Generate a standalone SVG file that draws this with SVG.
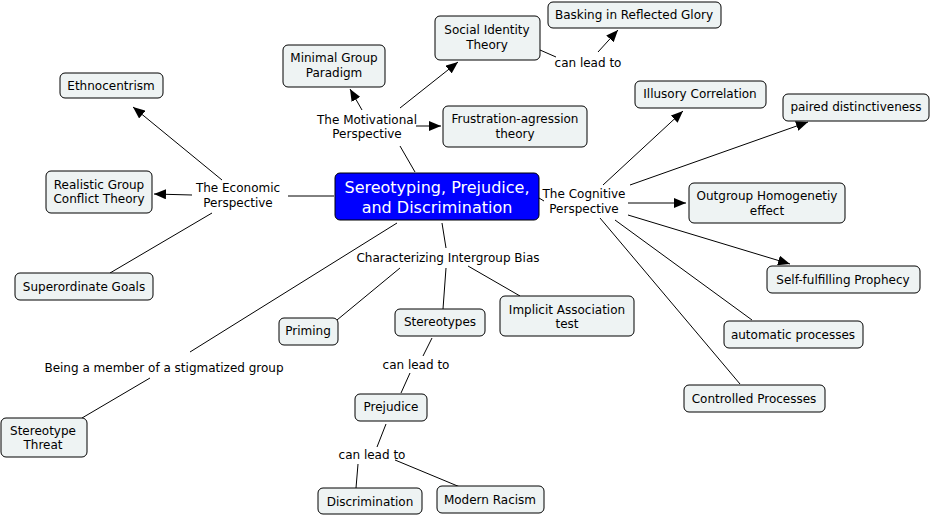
<svg xmlns="http://www.w3.org/2000/svg" width="931" height="516" viewBox="0 0 931 516">
<defs>
<marker id="ah" viewBox="0 0 12 10" refX="12" refY="5" markerWidth="12" markerHeight="10" markerUnits="userSpaceOnUse" orient="auto"><path d="M0,0 L12,5 L0,10 Z" fill="#000"/></marker>
<style>
text{font-family:"DejaVu Sans",Verdana,sans-serif;font-size:12px;fill:#000;text-anchor:middle}
.n rect{fill:#eef3f3;stroke:#000;stroke-width:1}
.c line{stroke:#000;stroke-width:1}
.a{marker-end:url(#ah)}
</style>
</defs>
<rect width="931" height="516" fill="#fff"/>
<g class="c">
<line x1="415" y1="172" x2="400" y2="146"/>
<line class="a" x1="362" y1="110" x2="350" y2="89"/>
<line class="a" x1="400" y1="108" x2="458" y2="62"/>
<line class="a" x1="416" y1="126" x2="441" y2="126"/>
<line x1="540" y1="50" x2="556" y2="57"/>
<line class="a" x1="598" y1="52" x2="618" y2="30"/>
<line x1="334" y1="196" x2="288" y2="196"/>
<line class="a" x1="222" y1="180" x2="133" y2="107"/>
<line class="a" x1="192" y1="195" x2="154" y2="194"/>
<line x1="212" y1="213" x2="110" y2="273"/>
<line x1="539" y1="198" x2="544" y2="201"/>
<line class="a" x1="603" y1="185" x2="683" y2="111"/>
<line class="a" x1="630" y1="185" x2="808" y2="122"/>
<line class="a" x1="628" y1="203" x2="686" y2="203"/>
<line class="a" x1="628" y1="215" x2="790" y2="264"/>
<line x1="615" y1="220" x2="752" y2="320"/>
<line x1="600" y1="218" x2="740" y2="384"/>
<line x1="442" y1="223" x2="446" y2="248"/>
<line x1="400" y1="268" x2="337" y2="320"/>
<line x1="446" y1="268" x2="443" y2="309"/>
<line x1="468" y1="266" x2="520" y2="296"/>
<line x1="397" y1="223" x2="190" y2="352"/>
<line x1="150" y1="378" x2="82" y2="418"/>
<line x1="432" y1="338" x2="423" y2="356"/>
<line x1="410" y1="373" x2="401" y2="393"/>
<line x1="386" y1="424" x2="377" y2="447"/>
<line x1="358" y1="464" x2="356" y2="488"/>
<line x1="395" y1="460" x2="460" y2="487"/>
</g>
<g id="labels">
<text x="367" y="124">The Motivational</text><text x="367" y="138">Perspective</text>
<text x="238" y="192">The Economic</text><text x="238" y="207">Perspective</text>
<text x="584" y="198">The Cognitive</text><text x="584" y="213">Perspective</text>
<text x="448" y="262">Characterizing Intergroup Bias</text>
<text x="588" y="67">can lead to</text>
<text x="416" y="369">can lead to</text>
<text x="372" y="459">can lead to</text>
<text x="164" y="372">Being a member of a stigmatized group</text>
</g>
<g id="main"><rect x="335" y="173" width="204" height="47" rx="5" fill="#0000ff" stroke="#000"/><text x="437" y="193" style="fill:#fff;font-size:16px">Sereotyping, Prejudice,</text><text x="437" y="213" style="fill:#fff;font-size:16px">and Discrimination</text></g>
<g id="n1" class="n"><rect x="60" y="73" width="103" height="25" rx="5"/><text x="111" y="90">Ethnocentrism</text></g>
<g id="n2" class="n"><rect x="283" y="45" width="102" height="42" rx="5"/><text x="334" y="62">Minimal Group</text><text x="334" y="77">Paradigm</text></g>
<g id="n3" class="n"><rect x="435" y="16" width="105" height="44" rx="5"/><text x="487" y="34">Social Identity</text><text x="487" y="49">Theory</text></g>
<g id="n4" class="n"><rect x="548" y="2" width="173" height="26" rx="5"/><text x="634" y="19">Basking in Reflected Glory</text></g>
<g id="n5" class="n"><rect x="443" y="106" width="144" height="41" rx="5"/><text x="515" y="123">Frustration-agression</text><text x="515" y="138">theory</text></g>
<g id="n6" class="n"><rect x="635" y="81" width="131" height="27" rx="5"/><text x="700" y="98">Illusory Correlation</text></g>
<g id="n7" class="n"><rect x="783" y="94" width="146" height="27" rx="5"/><text x="856" y="111">paired distinctiveness</text></g>
<g id="n8" class="n"><rect x="46" y="171" width="106" height="42" rx="5"/><text x="99" y="189">Realistic Group</text><text x="99" y="203">Conflict Theory</text></g>
<g id="n9" class="n"><rect x="689" y="183" width="156" height="40" rx="5"/><text x="767" y="200">Outgroup Homogenetiy</text><text x="767" y="215">effect</text></g>
<g id="n10" class="n"><rect x="767" y="266" width="153" height="27" rx="5"/><text x="843" y="284">Self-fulfilling Prophecy</text></g>
<g id="n11" class="n"><rect x="15" y="273" width="138" height="27" rx="5"/><text x="84" y="291">Superordinate Goals</text></g>
<g id="n12" class="n"><rect x="279" y="318" width="59" height="27" rx="5"/><text x="308" y="335">Priming</text></g>
<g id="n13" class="n"><rect x="395" y="309" width="90" height="27" rx="5"/><text x="440" y="326">Stereotypes</text></g>
<g id="n14" class="n"><rect x="500" y="296" width="134" height="40" rx="5"/><text x="567" y="314">Implicit Association</text><text x="567" y="328">test</text></g>
<g id="n15" class="n"><rect x="724" y="321" width="139" height="27" rx="5"/><text x="793" y="339">automatic processes</text></g>
<g id="n16" class="n"><rect x="684" y="385" width="141" height="27" rx="5"/><text x="754" y="403">Controlled Processes</text></g>
<g id="n17" class="n"><rect x="1" y="418" width="86" height="39" rx="5"/><text x="43" y="435">Stereotype</text><text x="43" y="449">Threat</text></g>
<g id="n18" class="n"><rect x="355" y="394" width="72" height="27" rx="5"/><text x="391" y="411">Prejudice</text></g>
<g id="n19" class="n"><rect x="318" y="488" width="104" height="26" rx="5"/><text x="370" y="506">Discrimination</text></g>
<g id="n20" class="n"><rect x="437" y="486" width="107" height="27" rx="5"/><text x="490" y="504">Modern Racism</text></g>
</svg>
